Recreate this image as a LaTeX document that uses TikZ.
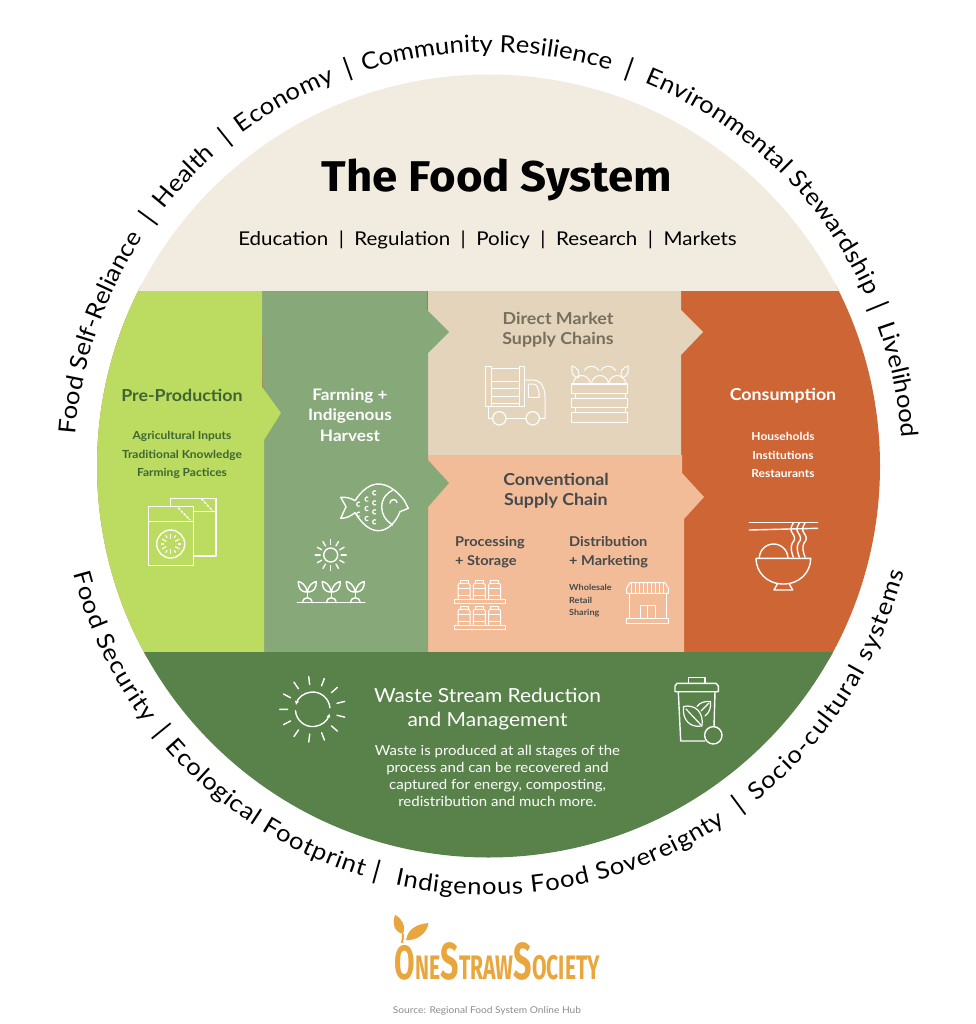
\documentclass[tikz,border=0pt]{standalone}
\usepackage{fontspec}
\setmainfont{Lato}[FakeStretch=1.08]
\newfontfamily\titlefont[FakeStretch=1.06]{Fira Sans}
\newfontfamily\logofont[FakeStretch=0.62]{Fira Sans}
\usetikzlibrary{arrows.meta}
\usetikzlibrary{decorations.text}

\definecolor{cream}{HTML}{F1ECDF}
\definecolor{limeg}{HTML}{BBDC60}
\definecolor{sage}{HTML}{87A878}
\definecolor{beige}{HTML}{E5D4BC}
\definecolor{peach}{HTML}{F3BC99}
\definecolor{rust}{HTML}{CE6535}
\definecolor{forest}{HTML}{58824A}
\definecolor{leafink}{HTML}{3F6632}
\definecolor{slateink}{HTML}{454A4A}
\definecolor{taupeink}{HTML}{76705F}
\definecolor{straw}{HTML}{E9A63D}

\newcommand{\px}[2]{\fontsize{#1}{#2}\selectfont}
\newcommand{\ringfont}{\px{23.7}{30}}
\newcommand{\ringtop}[3]{\path[decorate,decoration={text along path,text format delimiters={[}{]},text align=fit to path,text={[\ringfont]#3[]}}] (c) ++(#1:414pt) arc[start angle=#1,end angle=#2,radius=414pt];}
\newcommand{\ringlow}[3]{\path[decorate,decoration={text along path,text format delimiters={[}{]},text align=fit to path,text={[\ringfont]#3[]}}] (c) ++(#1:429pt) arc[start angle=#1,end angle=#2,radius=429pt];}
\newcommand{\bartop}[2]{\path (c) ++(#2:421pt) node[ringbar,rotate=#2-90] (#1) {|};}
\newcommand{\barlow}[2]{\path (c) ++(#2:421.5pt) node[ringbar,rotate=#2+90] (#1) {|};}

\tikzset{
  icon/.style={draw=white,line width=1.4pt,line join=round,line cap=round},
  thinicon/.style={draw=white,line width=1pt,line join=round},
  headw/.style={font=\bfseries\px{16.5}{20.5},text=white,align=center,inner sep=0pt},
  small/.style={font=\bfseries\px{11.1}{18.5},align=center,inner sep=0pt},
  mid/.style={font=\bfseries\px{13.5}{18.5},text=slateink,align=left,inner sep=0pt},
  ringbar/.style={font=\px{26}{30},inner sep=0pt},
}

\begin{document}
\begin{tikzpicture}[x=1pt,y=-1pt]
  \useasboundingbox (0,0) rectangle (975,1024);
  \coordinate (c) at (488.5,466);

  \begin{scope}
    \clip (c) circle[radius=391.5pt];
    \fill[rust] (90,285) rectangle (890,660);
    \fill[cream] (90,70) rectangle (890,291);
    \fill[beige] (428,291) -- (681,291) -- (681,310) -- (703,332) -- (681,355) -- (681,456) -- (428,456) -- cycle;
    \fill[peach] (428,455) -- (682,455) -- (682,473) -- (704,497) -- (684,519) -- (684,652) -- (428,652) -- cycle;
    \fill[sage] (262,291) -- (427,291) -- (427,310) -- (449,332) -- (428,353) -- (428,460) -- (449,483) -- (428,507) -- (428,652) -- (264,652) -- cycle;
    \fill[limeg] (90,291) -- (262,291) -- (262,387) -- (281,413) -- (264,440) -- (264,652) -- (90,652) -- cycle;
    \fill[forest] (90,652) rectangle (890,860);
  \end{scope}

  \ringtop{175.7}{146.8}{Food Self-Reliance}
  \bartop{bara}{143.9}
  \ringtop{141.7}{131.3}{Health}
  \bartop{barb}{128.6}
  \ringtop{126.6}{111.8}{Economy}
  \bartop{barc}{109.5}
  \ringtop{107.5}{73.2}{Community Resilience}
  \bartop{bard}{70.5}
  \ringtop{67.8}{24.2}{Environmental Stewardship}
  \bartop{bare}{22.2}
  \ringtop{19.9}{4}{Livelihood}

  \ringlow{194.5}{216.8}{Food Security}
  \barlow{barf}{219.1}
  \ringlow{221}{253}{Ecological Footprint}
  \barlow{barg}{254.6}
  \ringlow{257.4}{303.6}{Indigenous Food Sovereignty}
  \barlow{barh}{306.5}
  \ringlow{308.6}{345.7}{Socio-cultural systems}

  \node[font=\titlefont\bfseries\px{43}{50},inner sep=0pt] (title) at (497,180) {The Food System};
  \node[font=\px{19}{24},inner sep=0pt] (pillars) at (487.5,239.5) {Education\ \ |\ \ Regulation\ \ |\ \ Policy\ \ |\ \ Research\ \ |\ \ Markets};

  \node[headw,text=leafink] (pre) at (182,395) {Pre-Production};
  \node[small,text=leafink] (prelist) at (182,455) {Agricultural Inputs\\Traditional Knowledge\\Farming Pactices};
  \node[headw,font=\bfseries\px{15.9}{20.5}] (farm) at (350,415) {Farming +\\Indigenous\\Harvest};
  \node[headw,text=taupeink] (direct) at (558,330) {Direct Market\\Supply Chains};
  \node[headw,text=slateink] (conv) at (556,490.5) {Conventional\\Supply Chain};
  \node[mid,anchor=west] (proc) at (455,552) {Processing\\+ Storage};
  \node[mid,anchor=west] (dist) at (569,552) {Distribution\\+ Marketing};
  \node[font=\bfseries\px{8.4}{12.5},text=slateink,align=left,inner sep=0pt,anchor=west] (outlets) at (569,601) {Wholesale\\Retail\\Sharing};
  \node[headw] (cons) at (783,396) {Consumption};
  \node[small,text=white] (conslist) at (783,455) {Households\\Institutions\\Restaurants};
  \node[font=\px{19.4}{24},text=white,align=center,inner sep=0pt] (waste) at (487.5,709) {Waste Stream Reduction\\and Management};
  \node[font=\px{13.9}{17},text=white,align=center,inner sep=0pt] (wastetxt) at (497.5,776) {Waste is produced at all stages of the\\process and can be recovered and\\captured for energy, composting,\\redistribution and much more.};

  % seed packets
  \draw[icon] (170.7,506.7) -- (170.7,498.3) -- (216,498.3) -- (216,556) -- (193.3,556);
  \draw[icon] (193.3,511.7) -- (216,511.7);
  \draw[icon] (148.7,506.7) rectangle (193.3,565.3);
  \draw[icon] (148.7,521.7) -- (193.3,521.7);
  \draw[icon,dashed,dash pattern=on 2pt off 2pt] (178.3,508) -- (190,520);
  \draw[icon,dashed,dash pattern=on 2pt off 2pt] (201.7,499) -- (213.3,511.7);
  \coordinate (seed) at (170.7,544);
  \draw[icon] (seed) circle[radius=14pt];
  \foreach \a in {30,90,...,330}
    \draw[white,line width=1.1pt] (seed) ++(\a:5pt) -- ++(\a:5pt);
  \foreach \a in {0,60,...,300}
    \draw[white,line width=1.1pt] (seed) ++(\a:7pt) -- ++(\a:3pt);

  % fish
  \draw[icon] (355,500.7) .. controls (362,490) and (370,484) .. (378.3,484)
    .. controls (388,484) and (397,491) .. (404,500) -- (408.3,508.3) -- (400,511.7)
    .. controls (396,522) and (388,530.7) .. (378.3,530.7)
    .. controls (370,530.7) and (362,524) .. (355,512.7)
    .. controls (351,516) and (346,518.5) .. (340.7,518.3)
    -- (346,506.7) -- (340.7,497.3) .. controls (346,497) and (351,498) .. cycle;
  \draw[icon] (392.7,490) .. controls (384,495) and (381.7,501) .. (381.7,507) .. controls (381.7,514) and (385,520) .. (392.7,525);
  \draw[icon] (390,503) arc[start angle=180,end angle=10,radius=3.5pt];
  \foreach \x/\y in {360/502.3,360/512.3,368.3/497.3,368.3/506.7,368.3/516.7,376/491,376/501,376/510,376/520}
    \draw[white,line width=1.2pt] (\x,\y) arc[start angle=60,end angle=300,radius=2.2pt];

  % sun and seedlings
  \coordinate (sun) at (330.7,555);
  \draw[icon] (sun) circle[radius=7pt];
  \foreach \a in {0,30,...,330}
    \draw[icon] (sun) ++(\a:10.5pt) -- ++(\a:5pt);
  \draw[icon] (297.3,602.7) -- (365,602.7);
  \foreach \s in {307.3,331.3,355.3} {
    \begin{scope}[shift={(\s,0)}]
      \draw[icon] (-5,602.7) arc[start angle=180,end angle=0,radius=5pt];
      \draw[icon] (0,597.7) -- (0,592);
      \draw[icon] (0,592) .. controls (-7,592) and (-9,588) .. (-9,581.5) .. controls (-6,582) and (-1,585) .. (0,592)
        .. controls (7,592) and (9,588) .. (9,581.5) .. controls (6,582) and (1,585) .. (0,592);
    \end{scope}
  }

  % truck
  \draw[thinicon] (485.7,366) rectangle (491,406.7);
  \draw[thinicon] (519,366) rectangle (524.3,406.7);
  \foreach \y in {368.3,381.7,388.3,396,403.3}
    \draw[thinicon] (491,\y) -- (519,\y);
  \draw[thinicon] (491,406.7) -- (519,406.7);
  \draw[thinicon] (524.3,380) -- (533,380) .. controls (541,380) and (545,388) .. (545,396.7) -- (545,418.3) -- (539.4,418.3);
  \draw[thinicon] (528.3,384) -- (534,384) .. controls (537,384) and (539.3,390) .. (539.3,397.3) -- (528.3,397.3) -- cycle;
  \draw[thinicon] (488.3,406.7) -- (488.3,418.3) -- (492.6,418.3);
  \draw[thinicon] (506,418.3) -- (526,418.3);
  \draw[icon,line width=1.2pt] (499.3,418.3) circle[radius=6.7pt];
  \draw[icon,line width=1.2pt] (532.7,418.3) circle[radius=6.7pt];

  % crate of fruit
  \foreach \y/\h in {384/393.3,398.3/407.3,412.7/422.3}
    \draw[icon,line width=1.2pt] (571.7,\y) rectangle (627.3,\h);
  \foreach \y/\h in {393.3/398.3,407.3/412.7} {
    \draw[thinicon] (575,\y) -- (575,\h);
    \draw[thinicon] (625,\y) -- (625,\h);
  }
  \foreach \x in {581.7,600,617.3}
    \draw[thinicon] (\x-8.5,384) arc[start angle=180,end angle=0,radius=8.5pt];
  \foreach \x in {591.7,608.3}
    \draw[thinicon] (\x-7.4,370.5) arc[start angle=150,end angle=30,radius=8.5pt];
  \draw[thinicon] (578,378) .. controls (572,376) and (571,372) .. (572,366) .. controls (577,367) and (581,372) .. cycle;
  \draw[thinicon] (622,378) .. controls (628,376) and (629,372) .. (628,366) .. controls (623,367) and (619,372) .. cycle;

  % jars on shelves
  \foreach \y in {599.3,625.3}
    \draw[thinicon] (454.3,\y) rectangle (505,\y+4);
  \foreach \x in {464,479.3,494.7}
    \foreach \y in {599.3,625.3} {
      \draw[thinicon] (\x-6,\y) -- (\x-6,\y-14) .. controls (\x-6,\y-16) and (\x-4,\y-16) .. (\x-4,\y-16) -- (\x+4,\y-16) .. controls (\x+4,\y-16) and (\x+6,\y-16) .. (\x+6,\y-14) -- (\x+6,\y);
      \draw[thinicon] (\x-4,\y-16) -- (\x-4,\y-19) -- (\x+4,\y-19) -- (\x+4,\y-16);
      \draw[thinicon] (\x-6,\y-11) -- (\x+6,\y-11);
      \draw[thinicon] (\x-6,\y-4) -- (\x+6,\y-4);
    }

  % storefront
  \draw[thinicon] (626.7,593.3) -- (626.7,588) -- (630,582.7) -- (665,582.7) -- (668.3,588) -- (668.3,593.3) -- cycle;
  \foreach \x in {631,635,639,643,647,651,655,659,663}
    \draw[white,line width=.8pt] (\x,583) -- (\x,593);
  \draw[thinicon] (629.3,593.3) -- (629.3,618.3);
  \draw[thinicon] (666,593.3) -- (666,618.3);
  \draw[thinicon] (626.7,618.3) rectangle (668.3,623.3);
  \draw[thinicon] (640,618.3) -- (640,605) -- (655,605) -- (655,618.3);
  \draw[thinicon] (647.5,605) -- (647.5,618.3);

  % noodle bowl
  \draw[icon] (749.3,522.7) -- (817.7,522.7);
  \draw[icon] (749.3,530) -- (817.7,528.3);
  \draw[icon] (756,558.3) -- (810.7,558.3) .. controls (810.7,572) and (800,584) .. (783.3,584) .. controls (766.7,584) and (756,572) .. (756,558.3);
  \draw[icon] (777.3,584) -- (774,590) -- (792.7,590) -- (789.3,584);
  \draw[icon] (759.3,558.3) arc[start angle=180,end angle=0,radius=14.3pt];
  \foreach \x in {793.3,799.3,805}
    \draw[icon] (\x,523) .. controls (\x-3,528) and (\x-3,530) .. (\x-1,533) .. controls (\x+2,537) and (\x+2,540) .. (\x-1,543) .. controls (\x-3,547) and (\x-2,552) .. (\x,557);

  % recycling sun
  \coordinate (cycle) at (312.7,709.3);
  \foreach \n in {0,...,12}
    \draw[icon] (cycle) ++({97-\n*360/13}:25pt) -- ++({97-\n*360/13}:8pt);
  \draw[icon,-{Stealth[length=4pt,width=4pt]}] (cycle) ++(5:17.3pt) arc[start angle=5,end angle=165,radius=17.3pt];
  \draw[icon,-{Stealth[length=4pt,width=4pt]}] (cycle) ++(185:17.3pt) arc[start angle=185,end angle=345,radius=17.3pt];

  % waste bin
  \draw[icon] (675,691.7) -- (675,686) -- (677,683.3) -- (716,683.3) -- (718.3,686) -- (718.3,691.7) -- cycle;
  \draw[icon] (688.3,683.3) -- (688.3,677.3) -- (705,677.3) -- (705,683.3);
  \draw[icon] (678.3,691.7) -- (680.7,741) -- (705,741);
  \draw[icon] (715,691.7) -- (714,726.7);
  \draw[icon] (713.3,735.3) circle[radius=8.7pt];
  \draw[icon,line width=1.2pt] (683.5,706.5) .. controls (695,704) and (704,712) .. (702,726) .. controls (690,728) and (682,720) .. cycle;
  \draw[icon,line width=1.2pt] (686,709) -- (701,725);
  \draw[icon,line width=1.2pt] (697,706.5) .. controls (700,702) and (706,701) .. (710.5,701.5) .. controls (711,707) and (710,712) .. (705,716);
  \draw[icon,line width=1.2pt] (701,711) -- (709,703);

  % logo
  \fill[straw] (403,934) .. controls (394,932) and (392,923) .. (395,915) .. controls (402,918) and (406,926) .. cycle;
  \fill[straw] (406,940) .. controls (408,928) and (418,924) .. (428.5,923) .. controls (427,934) and (416,941) .. cycle;
  \draw[straw,line width=2pt] (402,943) .. controls (403,938) and (403,936) .. (403,934);
  \node[font=\logofont\bfseries\px{34}{40},text=straw,inner sep=0pt,anchor=base] (logo) at (497.5,979) {{\px{48}{50}O}NE{\px{52}{50}S}TRAW{\px{52}{50}S}OCIETY};
  \node[font=\px{9.4}{12},text=black!45,inner sep=0pt] (source) at (487,1011) {Source: Regional Food System Online Hub};
\end{tikzpicture}
\end{document}
